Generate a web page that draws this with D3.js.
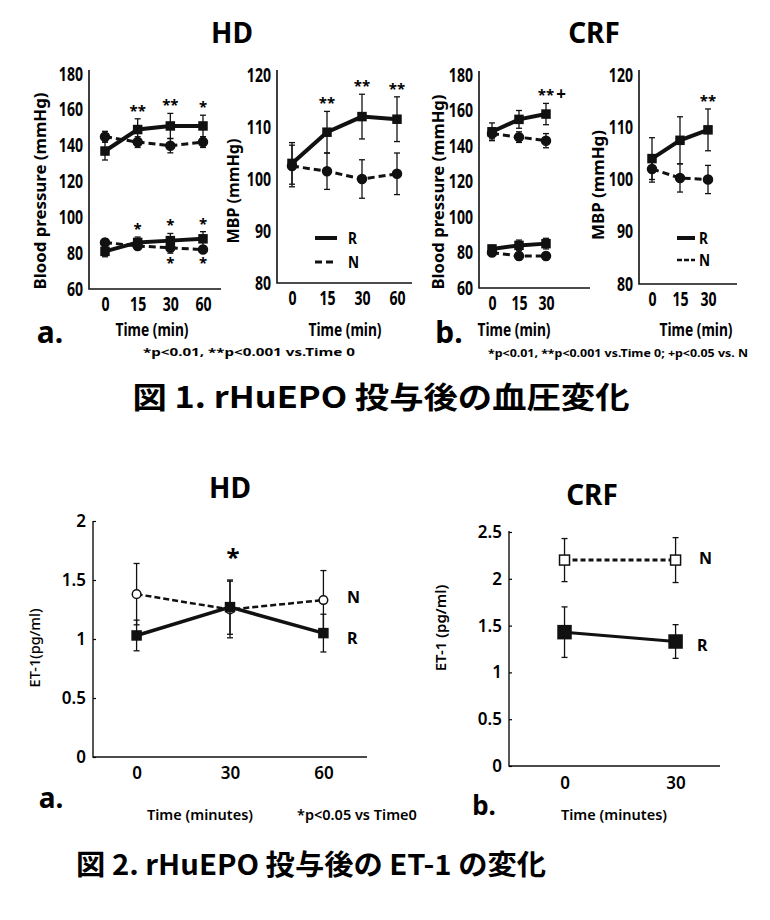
<!DOCTYPE html>
<html>
<head>
<meta charset="utf-8">
<script src="https://cdn.jsdelivr.net/npm/d3@7"></script>
<style>
  body { margin: 0; background: #fff; }
  text { fill: #000; }
  .cond { font-family: "Noto Sans", "Open Sans", sans-serif; font-weight: bold; }
  .sans { font-family: "Noto Sans", "Open Sans", sans-serif; }
  .jp { font-family: "Noto Sans CJK JP", sans-serif; font-weight: bold; }
</style>
</head>
<body>
<svg id="fig" width="770" height="920"></svg>
<script>
// ---- Fig 1: blood pressure ----
const bpTimesHD = [0, 15, 30, 60];
const bpTimesCRF = [0, 15, 30];
const bpTicks = [60, 80, 100, 120, 140, 160, 180];
const mbpTicks = [80, 90, 100, 110, 120];

const hdSysR = [137, 149, 151, 151];
const hdSysRErr = [5, 6, 7, 6];
const hdSysN = [145, 142, 140, 142];
const hdSysNErr = [3, 3, 4, 3];
const hdDiaR = [81, 86, 87, 88];
const hdDiaRErr = [3, 3, 4, 4];
const hdDiaN = [86, 84, 83, 82];
const hdDiaNErr = [2, 2, 3, 2];
const hdSysStars = ['', '**', '**', '*'];
const hdDiaStarsR = ['', '*', '*', '*'];
const hdDiaStarsN = ['', '', '*', '*'];

const hdMbpR = [103, 109, 112, 111.5];
const hdMbpRErr = [4, 4, 4.3, 4.3];
const hdMbpN = [102.5, 101.5, 100, 101];
const hdMbpNErr = [4, 3.5, 3.7, 4];
const hdMbpStars = ['', '**', '**', '**'];

const crfSysR = [148, 155, 158];
const crfSysRErr = [5, 5, 6];
const crfSysN = [147, 145, 143];
const crfSysNErr = [3, 3, 4];
const crfDiaR = [82, 84, 85];
const crfDiaRErr = [2, 3, 3];
const crfDiaN = [80, 78, 78];
const crfDiaNErr = [2, 2, 2];
const crfSysStars = ['', '', '**'];
const crfSysPlus = ['', '', '+'];

const crfMbpR = [104, 107.5, 109.5];
const crfMbpRErr = [4, 4.5, 4];
const crfMbpN = [102, 100.3, 100];
const crfMbpNErr = [2.5, 2.7, 2.7];
const crfMbpStars = ['', '', '**'];

// ---- Fig 2: ET-1 ----
const etTimesHD = [0, 30, 60];
const etTicksHD = [0, 0.5, 1, 1.5, 2];
const etHdR = [1.03, 1.27, 1.05];
const etHdRErr = [0.13, 0.23, 0.16];
const etHdN = [1.38, 1.25, 1.33];
const etHdNErr = [0.26, 0.24, 0.25];
const etHdStars = ['', '*', ''];

const etTimesCRF = [0, 30];
const etTicksCRF = [0, 0.5, 1, 1.5, 2, 2.5];
const etCrfR = [1.43, 1.33];
const etCrfRErr = [0.27, 0.18];
const etCrfN = [2.2, 2.2];
const etCrfNErr = [0.23, 0.24];

const svg = d3.select('#fig');

// squeeze text horizontally (no condensed face installed)
function squeeze(sel, k) {
  sel.each(function () {
    const w = this.getComputedTextLength();
    this.setAttribute('textLength', w * k);
    this.setAttribute('lengthAdjust', 'spacingAndGlyphs');
  });
  return sel;
}

function frame(x0, x1, yTop, yBot, w) {
  svg.append('path')
    .attr('d', `M${x0},${yTop}V${yBot}H${x1}`)
    .attr('fill', 'none').attr('stroke', '#111').attr('stroke-width', w || 1.6);
}

function yAxis(y, x0, ticks, size) {
  const g = svg.append('g').attr('transform', `translate(${x0},0)`)
    .call(d3.axisLeft(y).tickValues(ticks).tickSize(0).tickPadding(6).tickFormat(d3.format('')));
  g.select('.domain').remove();
  g.selectAll('text').attr('class', 'cond').style('font-size', size + 'px').attr('fill', '#000');
  squeeze(g.selectAll('text'), 0.74);
  return g;
}

function xAxis(x, y0, size, pad) {
  const g = svg.append('g').attr('transform', `translate(0,${y0})`)
    .call(d3.axisBottom(x).tickSize(0).tickPadding(pad));
  g.select('.domain').remove();
  g.selectAll('text').attr('class', 'cond').style('font-size', size + 'px').attr('fill', '#000');
  squeeze(g.selectAll('text'), 0.74);
  return g;
}

function series(x, y, times, vals, errs, st) {
  const pts = times.map((t, i) => ({ t, v: vals[i], e: errs[i] }));
  const g = svg.append('g');
  // error bars
  g.selectAll('line.eb').data(pts).join('line').attr('class', 'eb')
    .attr('x1', (d) => x(d.t)).attr('x2', (d) => x(d.t))
    .attr('y1', (d) => y(d.v - d.e)).attr('y2', (d) => y(d.v + d.e))
    .attr('stroke', '#111').attr('stroke-width', 1.3);
  const caps = pts.flatMap((d) => [d.v - d.e, d.v + d.e].map((c) => ({ t: d.t, c })));
  g.selectAll('line.cap').data(caps).join('line').attr('class', 'cap')
    .attr('x1', (d) => x(d.t) - 3).attr('x2', (d) => x(d.t) + 3)
    .attr('y1', (d) => y(d.c)).attr('y2', (d) => y(d.c))
    .attr('stroke', '#111').attr('stroke-width', 1.3);
  g.append('path').datum(pts)
    .attr('d', d3.line().x((d) => x(d.t)).y((d) => y(d.v)))
    .attr('fill', 'none').attr('stroke', '#111')
    .attr('stroke-width', st.lw).attr('stroke-dasharray', st.dash || null);
  if (st.marker === 'circle') {
    g.selectAll('circle').data(pts).join('circle')
      .attr('cx', (d) => x(d.t)).attr('cy', (d) => y(d.v)).attr('r', st.size)
      .attr('fill', st.open ? '#fff' : '#111').attr('stroke', '#111').attr('stroke-width', 1.5);
  } else {
    g.selectAll('rect').data(pts).join('rect')
      .attr('x', (d) => x(d.t) - st.size / 2).attr('y', (d) => y(d.v) - st.size / 2)
      .attr('width', st.size).attr('height', st.size)
      .attr('fill', st.open ? '#fff' : '#111').attr('stroke', '#111').attr('stroke-width', 1.5);
  }
}

function stars(x, y, times, vals, errs, marks, dir, size, dx) {
  svg.append('g').selectAll('text').data(times.map((t, i) => ({ t, v: vals[i], e: errs[i], m: marks[i] })).filter((d) => d.m))
    .join('text').attr('class', 'cond')
    .attr('x', (d) => x(d.t) + (dx || 0))
    .attr('y', (d) => (dir > 0 ? y(d.v + d.e) - 3 : y(d.v - d.e) + 15))
    .attr('text-anchor', 'middle').style('font-size', size + 'px')
    .text((d) => d.m);
}

function label(txt, x, y, cls, size, anchor, rot) {
  const t = svg.append('text').attr('class', cls).style('font-size', size + 'px')
    .attr('text-anchor', anchor || 'middle').text(txt);
  if (rot) t.attr('transform', `translate(${x},${y}) rotate(-90)`);
  else t.attr('x', x).attr('y', y);
  return t;
}

function fit(t, len) {
  return t.attr('textLength', len).attr('lengthAdjust', 'spacingAndGlyphs');
}

const solidBP = { lw: 4, marker: 'rect', size: 8 };
const dashBP = { lw: 3, dash: '7,4', marker: 'circle', size: 4.5 };

// ---- panel 1: HD blood pressure ----
{
  const x = d3.scalePoint().domain(bpTimesHD).range([105, 203]);
  const y = d3.scaleLinear().domain([60, 180]).range([289, 74]);
  frame(89, 221, 70, 289);
  yAxis(y, 89, bpTicks, 19);
  xAxis(x, 292, 19, 5);
  series(x, y, bpTimesHD, hdSysN, hdSysNErr, dashBP);
  series(x, y, bpTimesHD, hdDiaN, hdDiaNErr, dashBP);
  series(x, y, bpTimesHD, hdSysR, hdSysRErr, solidBP);
  series(x, y, bpTimesHD, hdDiaR, hdDiaRErr, solidBP);
  stars(x, y, bpTimesHD, hdSysR, hdSysRErr, hdSysStars, 1, 15);
  stars(x, y, bpTimesHD, hdDiaR, hdDiaRErr, hdDiaStarsR, 1, 15);
  stars(x, y, bpTimesHD, hdDiaN, hdDiaNErr, hdDiaStarsN, -1, 15);
  fit(label('Blood pressure (mmHg)', 46, 191, 'cond', 16, 'middle', true), 197);
  fit(label('Time (min)', 152, 336, 'cond', 17), 73);
  label('a.', 50, 343, 'sans', 30).style('font-weight', 'bold');
  fit(label('*p<0.01, **p<0.001 vs.Time 0', 143, 356, 'cond', 10.5, 'start'), 212);
}

// ---- panel 2: HD MBP ----
{
  const x = d3.scalePoint().domain(bpTimesHD).range([292, 397]);
  const y = d3.scaleLinear().domain([80, 120]).range([283, 75]);
  frame(277, 412, 70, 283);
  yAxis(y, 277, mbpTicks, 19);
  xAxis(x, 286, 19, 5);
  series(x, y, bpTimesHD, hdMbpN, hdMbpNErr, dashBP);
  series(x, y, bpTimesHD, hdMbpR, hdMbpRErr, solidBP);
  stars(x, y, bpTimesHD, hdMbpR, hdMbpRErr, hdMbpStars, 1, 15);
  svg.append('line').attr('x1', 315).attr('x2', 337).attr('y1', 238).attr('y2', 238)
    .attr('stroke', '#111').attr('stroke-width', 4);
  svg.append('line').attr('x1', 315).attr('x2', 337).attr('y1', 262).attr('y2', 262)
    .attr('stroke', '#111').attr('stroke-width', 3).attr('stroke-dasharray', '7,4');
  squeeze(label('R', 348, 244, 'cond', 16, 'start'), 0.85);
  squeeze(label('N', 348, 268, 'cond', 16, 'start'), 0.85);
  fit(label('MBP (mmHg)', 239, 191, 'cond', 16, 'middle', true), 105);
  fit(label('Time (min)', 345, 336, 'cond', 17), 73);
}

// ---- panel 3: CRF blood pressure ----
{
  const x = d3.scalePoint().domain(bpTimesCRF).range([492, 546]);
  const y = d3.scaleLinear().domain([60, 180]).range([288, 75]);
  frame(479, 590, 71, 288);
  yAxis(y, 479, bpTicks, 19);
  xAxis(x, 291, 19, 5);
  series(x, y, bpTimesCRF, crfSysN, crfSysNErr, dashBP);
  series(x, y, bpTimesCRF, crfDiaN, crfDiaNErr, dashBP);
  series(x, y, bpTimesCRF, crfSysR, crfSysRErr, solidBP);
  series(x, y, bpTimesCRF, crfDiaR, crfDiaRErr, solidBP);
  stars(x, y, bpTimesCRF, crfSysR, crfSysRErr, crfSysStars, 1, 15);
  stars(x, y, bpTimesCRF, crfSysR, crfSysRErr, crfSysPlus, 1, 17, 15);
  fit(label('Blood pressure (mmHg)', 444, 192, 'cond', 16, 'middle', true), 195);
  fit(label('Time (min)', 514, 336, 'cond', 17), 73);
  label('b.', 449, 343, 'sans', 30).style('font-weight', 'bold');
  fit(label('*p<0.01, **p<0.001 vs.Time 0; +p<0.05 vs. N', 488, 357, 'cond', 10.5, 'start'), 260);
}

// ---- panel 4: CRF MBP ----
{
  const x = d3.scalePoint().domain(bpTimesCRF).range([652, 708]);
  const y = d3.scaleLinear().domain([80, 120]).range([284, 75]);
  frame(639, 737, 70, 284);
  yAxis(y, 639, mbpTicks, 19);
  xAxis(x, 287, 19, 5);
  series(x, y, bpTimesCRF, crfMbpN, crfMbpNErr, dashBP);
  series(x, y, bpTimesCRF, crfMbpR, crfMbpRErr, solidBP);
  stars(x, y, bpTimesCRF, crfMbpR, crfMbpRErr, crfMbpStars, 1, 15);
  svg.append('line').attr('x1', 677).attr('x2', 695).attr('y1', 238).attr('y2', 238)
    .attr('stroke', '#111').attr('stroke-width', 4);
  svg.append('line').attr('x1', 677).attr('x2', 695).attr('y1', 260).attr('y2', 260)
    .attr('stroke', '#111').attr('stroke-width', 2.5).attr('stroke-dasharray', '5,2');
  squeeze(label('R', 699, 244, 'cond', 16, 'start'), 0.85);
  squeeze(label('N', 699, 266, 'cond', 16, 'start'), 0.85);
  fit(label('MBP (mmHg)', 604, 185, 'cond', 16, 'middle', true), 110);
  fit(label('Time (min)', 696, 336, 'cond', 17), 73);
}

// titles fig 1
label('HD', 232, 43, 'sans', 28).style('font-weight', 'bold');
label('CRF', 594, 43, 'sans', 28).style('font-weight', 'bold');
fit(label('図 1. rHuEPO 投与後の血圧変化', 381, 408, 'jp', 30), 497);

// ---- panel 5: HD ET-1 ----
{
  const x = d3.scaleLinear().domain([-14, 74]).range([93, 367]);
  const y = d3.scaleLinear().domain([0, 2]).range([757, 521]);
  frame(93, 367, 521, 757, 1.4);
  svg.append('g').attr('transform', 'translate(93,0)')
    .call(d3.axisLeft(y).tickValues(etTicksHD).tickSize(-3).tickFormat(d3.format('')))
    .call((a) => a.select('.domain').remove())
    .call((a) => a.selectAll('line').attr('stroke-width', 1.2))
    .selectAll('text').attr('class', 'sans').style('font-size', '17px').style('font-weight', '600').attr('dx', -4);
  svg.append('g').attr('transform', 'translate(0,757)')
    .call(d3.axisBottom(x).tickValues(etTimesHD).tickSize(0).tickPadding(10))
    .call((a) => a.select('.domain').remove())
    .selectAll('text').attr('class', 'sans').style('font-size', '17px').style('font-weight', '600');
  series(x, y, etTimesHD, etHdN, etHdNErr, { lw: 2.5, dash: '6,3', marker: 'circle', size: 4.3, open: true });
  series(x, y, etTimesHD, etHdR, etHdRErr, { lw: 3.5, marker: 'rect', size: 9 });
  svg.append('g').selectAll('text').data(etTimesHD.map((t, i) => ({ t, m: etHdStars[i] })).filter((d) => d.m))
    .join('text').attr('class', 'sans').style('font-size', '24px').style('font-weight', 'bold')
    .attr('x', (d) => x(d.t) + 3).attr('y', 566).attr('text-anchor', 'middle').text((d) => d.m);
  label('N', 347, 603, 'sans', 16, 'start').style('font-weight', 'bold');
  label('R', 347, 644, 'sans', 16, 'start').style('font-weight', 'bold');
  label('ET-1(pg/ml)', 40, 648, 'sans', 14.5, 'middle', true).style('font-weight', '500');
  label('a.', 51, 808, 'sans', 28).style('font-weight', 'bold');
  label('Time (minutes)', 200, 820, 'sans', 14.5).style('font-weight', '600');
  label('*p<0.05 vs Time0', 297, 820, 'sans', 14.5, 'start').style('font-weight', '600');
  label('HD', 230, 498, 'sans', 28).style('font-weight', 'bold');
}

// ---- panel 6: CRF ET-1 ----
{
  const x = d3.scaleLinear().domain([-15, 42]).range([509, 720]);
  const y = d3.scaleLinear().domain([0, 2.5]).range([766, 532]);
  frame(509, 720, 531, 766, 1.4);
  svg.append('g').attr('transform', 'translate(509,0)')
    .call(d3.axisLeft(y).tickValues(etTicksCRF).tickSize(-3).tickFormat(d3.format('')))
    .call((a) => a.select('.domain').remove())
    .call((a) => a.selectAll('line').attr('stroke-width', 1.2))
    .selectAll('text').attr('class', 'sans').style('font-size', '17px').style('font-weight', '600').attr('dx', -4);
  svg.append('g').attr('transform', 'translate(0,766)')
    .call(d3.axisBottom(x).tickValues(etTimesCRF).tickSize(0).tickPadding(11))
    .call((a) => a.select('.domain').remove())
    .selectAll('text').attr('class', 'sans').style('font-size', '17px').style('font-weight', '600');
  series(x, y, etTimesCRF, etCrfN, etCrfNErr, { lw: 3, dash: '5,3', marker: 'rect', size: 10, open: true });
  series(x, y, etTimesCRF, etCrfR, etCrfRErr, { lw: 3, marker: 'rect', size: 13 });
  label('N', 699, 564, 'sans', 16, 'start').style('font-weight', 'bold');
  label('R', 697, 651, 'sans', 16, 'start').style('font-weight', 'bold');
  label('ET-1 (pg/ml)', 446, 628, 'sans', 15, 'middle', true).style('font-weight', '600');
  label('b.', 484, 815, 'sans', 26).style('font-weight', 'bold');
  label('Time (minutes)', 614, 820, 'sans', 14.5).style('font-weight', '600');
  label('CRF', 592, 505, 'sans', 28).style('font-weight', 'bold');
}

fit(label('図 2. rHuEPO 投与後の ET-1 の変化', 76, 875, 'jp', 28, 'start'), 470);
</script>
</body>
</html>
